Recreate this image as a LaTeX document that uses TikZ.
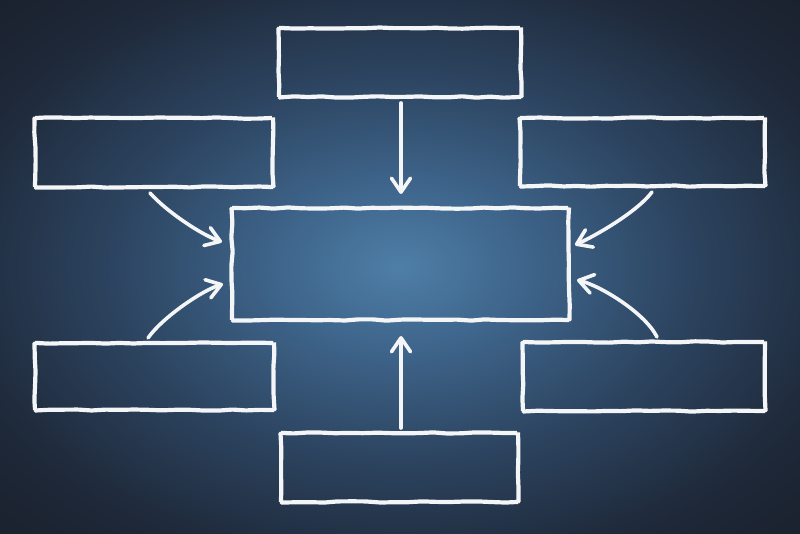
\documentclass[tikz,border=0pt]{standalone}
\usetikzlibrary{arrows.meta,decorations.pathmorphing}
\definecolor{chalk}{RGB}{244,245,246}
\definecolor{bgA}{RGB}{78,126,166}
\definecolor{bgB}{RGB}{62,100,138}
\definecolor{bgC}{RGB}{44,68,96}
\definecolor{bgD}{RGB}{30,40,56}
\definecolor{bgE}{RGB}{22,25,34}
\pgfdeclareradialshading{boardbg}{\pgfpoint{0bp}{0bp}}{%
  color(0bp)=(bgA); color(8bp)=(bgB); color(18bp)=(bgC); color(29bp)=(bgD); color(44bp)=(bgE); color(100bp)=(bgE)}
\tikzset{
  wob/.style={decorate,decoration={random steps,segment length=14pt,amplitude=0.7pt}},
  box/.style={draw=chalk,line width=4.2pt,rounded corners=1pt,inner sep=0pt,outer sep=0pt,wob},
  arr/.style={draw=chalk,line width=3.6pt,line cap=round,
    -{Straight Barb[length=14pt,width=19pt,line cap=round,round]}}
}
\begin{document}
\begin{tikzpicture}[x=1pt,y=1pt]
\pgfmathsetseed{7}
\useasboundingbox (0,0) rectangle (800,534);
\shade[shading=boardbg] (0,0) rectangle (800,534);
% boxes
\node[box,minimum width=242pt,minimum height=69pt] (top) at (400,471.5) {};
\node[box,minimum width=238pt,minimum height=69pt] (lt) at (154,381.5) {};
\node[box,minimum width=245pt,minimum height=68pt] (rt) at (642.5,382) {};
\node[box,minimum width=337pt,minimum height=112pt] (c) at (400.5,270) {};
\node[box,minimum width=239pt,minimum height=67pt] (lb) at (154.5,157.5) {};
\node[box,minimum width=242pt,minimum height=69pt] (rb) at (644,157.5) {};
\node[box,minimum width=237pt,minimum height=69pt] (bot) at (399.5,66.5) {};
% arrows
\draw[arr] ([shift={(1,-6)}]top.south) -- ([shift={(0.5,14)}]c.north);
\draw[arr] ([shift={(1.5,5)}]bot.north) -- ([shift={(0.5,-16)}]c.south);
\draw[arr] ([shift={(-4,-6)}]lt.south) .. controls +(16,-18) and +(-22,8) .. ([shift={(-10,22)}]c.west);
\draw[arr] ([shift={(-6.5,5)}]lb.north) .. controls +(14,20) and +(-22,-7) .. ([shift={(-9,-20)}]c.west);
\draw[arr] ([shift={(9.5,-6)}]rt.south) .. controls +(-14,-19) and +(22,10) .. ([shift={(6,19)}]c.east);
\draw[arr] ([shift={(13,5)}]rb.north) .. controls +(-12,24) and +(24,-6) .. ([shift={(8,-16)}]c.east);
\end{tikzpicture}
\end{document}
